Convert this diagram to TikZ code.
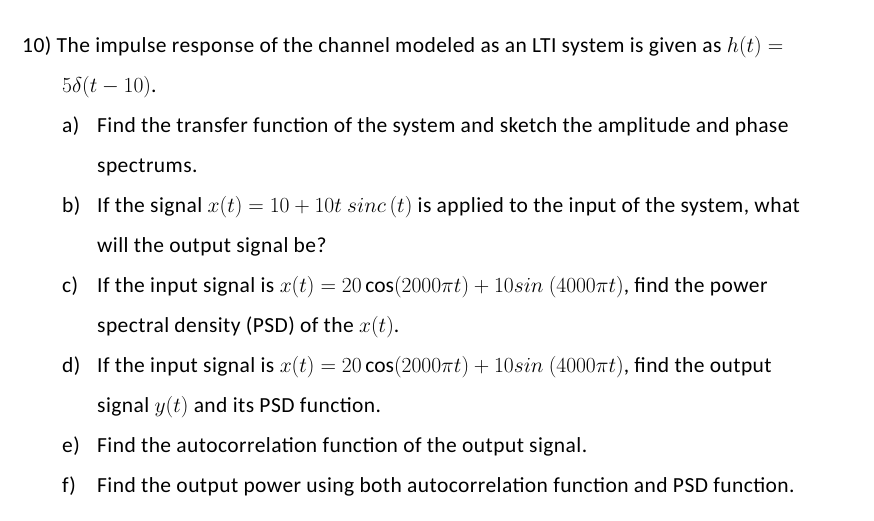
\documentclass[tikz,border=0pt]{standalone}
\usepackage{fix-cm}
\usepackage{fontspec}
\setmainfont{Carlito}[LetterSpace=2]
\begin{document}
\begin{tikzpicture}[x=1pt,y=-1pt,t/.style={anchor=base west,inner sep=0pt,font=\fontsize{21.5}{24}\selectfont}]
\useasboundingbox[fill=white] (0,0) rectangle (874,520);
\node[t] (l1) at (22,52) {10) The impulse response of the channel modeled as an LTI system is given as $h(t)=$};
\node[t] (l2) at (62,92) {$5\delta(t-10)$.};
\node[t] (a) at (62,132) {a)};
\node[t] (a1) at (97,132) {Find the transfer function of the system and sketch the amplitude and phase};
\node[t] (a2) at (97,172) {spectrums.};
\node[t] (b) at (62,212) {b)};
\node[t] (b1) at (97,212) {If the signal $x(t)=10+10t\ sinc\,(t)$ is applied to the input of the system, what};
\node[t] (b2) at (97,252) {will the output signal be?};
\node[t] (c) at (62,292) {c)};
\node[t] (c1) at (97,292) {If the input signal is $x(t)=20\cos(2000\pi t)+10sin\ (4000\pi t)$, find the power};
\node[t] (c2) at (97,332) {spectral density (PSD) of the $x(t)$.};
\node[t] (d) at (62,372) {d)};
\node[t] (d1) at (97,372) {If the input signal is $x(t)=20\cos(2000\pi t)+10sin\ (4000\pi t)$, find the output};
\node[t] (d2) at (97,412) {signal $y(t)$ and its PSD function.};
\node[t] (e) at (62,452) {e)};
\node[t] (e1) at (97,452) {Find the autocorrelation function of the output signal.};
\node[t] (f) at (62,492) {f)};
\node[t] (f1) at (97,492) {Find the output power using both autocorrelation function and PSD function.};
\end{tikzpicture}
\end{document}
